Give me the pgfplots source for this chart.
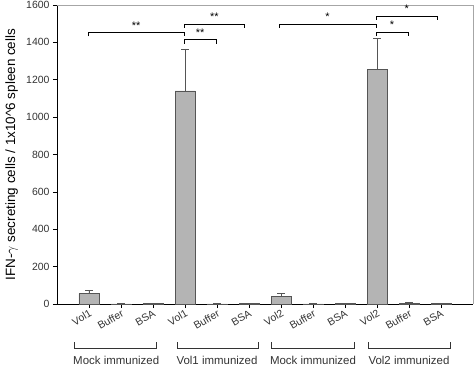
\documentclass[border=0pt]{standalone}
\usepackage{pgfplots}
\pgfplotsset{compat=1.18}
\usepackage{fontspec}
\setmainfont{Liberation Sans}
\definecolor{txt}{HTML}{333333}
\definecolor{barfill}{HTML}{B4B4B4}
\definecolor{baredge}{HTML}{555555}
\begin{document}
\begin{tikzpicture}[x=1bp,y=1bp]
\begin{axis}[
  at={(0,0)}, anchor=south west,
  scale only axis, width=416bp, height=299bp,
  xmin=-1, xmax=12, ymin=0, ymax=1600,
  axis lines*=left,
  axis line style={black, line width=0.6pt},
  tick align=outside, major tick length=4bp,
  tick style={black, line width=0.5pt},
  ytick={0,200,...,1600},
  xtick={0,...,11},
  xticklabels={Vol1,Buffer,BSA,Vol1,Buffer,BSA,Vol2,Buffer,BSA,Vol2,Buffer,BSA},
  xticklabel style={rotate=30, anchor=north east, inner sep=0.8pt, font=\fontsize{10.5}{12}\selectfont, text=txt},
  yticklabel style={font=\fontsize{10.5}{12}\selectfont, text=txt, /pgf/number format/fixed, /pgf/number format/1000 sep={}},
  /pgf/number format/assume math mode=true,
  scaled y ticks=false,
  ylabel={IFN-$\gamma$ secreting cells / 1x10\^{}6 spleen cells},
  ylabel style={font=\fontsize{13.5}{14}\selectfont, text=black},
  ylabel shift=1.5bp,
  clip=false,
]
\draw[gray!70, line width=0.8pt] (rel axis cs:0,1) -- (rel axis cs:1,1) -- (rel axis cs:1,0);
\addplot[ybar, bar width=0.625, fill=barfill, draw=baredge, line width=0.6pt,
  error bars/.cd, y dir=plus, y explicit,
  error bar style={baredge, line width=0.6pt},
  error mark options={rotate=90, mark size=4pt, baredge, line width=0.6pt}]
coordinates {
 (0,55) +- (0,17)
 (1,1) +- (0,1)
 (2,3) +- (0,2)
 (3,1140) +- (0,225)
 (4,1) +- (0,1)
 (5,3) +- (0,2)
 (6,40) +- (0,18)
 (7,1) +- (0,1)
 (8,3) +- (0,2)
 (9,1255) +- (0,165)
 (10,5) +- (0,2)
 (11,3) +- (0,2)
};
% significance brackets
\draw[black, line width=1pt] (axis cs:-0.03,1432) -- (axis cs:-0.03,1452) -- (axis cs:2.97,1452) -- (axis cs:2.97,1432);
\node[font=\fontsize{11}{12}\selectfont, anchor=south] at (axis cs:1.47,1452) {**};
\draw[black, line width=1pt] (axis cs:2.97,1477) -- (axis cs:2.97,1497) -- (axis cs:4.87,1497) -- (axis cs:4.87,1477);
\node[font=\fontsize{11}{12}\selectfont, anchor=south] at (axis cs:3.92,1497) {**};
\draw[black, line width=1pt] (axis cs:2.97,1393) -- (axis cs:2.97,1413) -- (axis cs:3.98,1413) -- (axis cs:3.98,1393);
\node[font=\fontsize{11}{12}\selectfont, anchor=south] at (axis cs:3.47,1413) {**};
\draw[black, line width=1pt] (axis cs:5.94,1477) -- (axis cs:5.94,1497) -- (axis cs:8.97,1497) -- (axis cs:8.97,1477);
\node[font=\fontsize{11}{12}\selectfont, anchor=south] at (axis cs:7.45,1497) {*};
\draw[black, line width=1pt] (axis cs:8.97,1521) -- (axis cs:8.97,1541) -- (axis cs:10.89,1541) -- (axis cs:10.89,1521);
\node[font=\fontsize{11}{12}\selectfont, anchor=south] at (axis cs:9.93,1541) {*};
\draw[black, line width=1pt] (axis cs:8.97,1433) -- (axis cs:8.97,1453) -- (axis cs:9.98,1453) -- (axis cs:9.98,1433);
\node[font=\fontsize{11}{12}\selectfont, anchor=south] at (axis cs:9.47,1453) {*};
% group brackets
\draw[txt, line width=0.5pt] (axis cs:-0.45,-206) -- (axis cs:-0.45,-238) -- (axis cs:2.1,-238) -- (axis cs:2.1,-206);
\node[font=\fontsize{11.5}{12}\selectfont, text=txt] at (axis cs:0.85,-300) {Mock immunized};
\draw[txt, line width=0.5pt] (axis cs:2.75,-206) -- (axis cs:2.75,-238) -- (axis cs:5.3,-238) -- (axis cs:5.3,-206);
\node[font=\fontsize{11.5}{12}\selectfont, text=txt] at (axis cs:4.0,-300) {Vol1 immunized};
\draw[txt, line width=0.5pt] (axis cs:5.7,-206) -- (axis cs:5.7,-238) -- (axis cs:8.3,-238) -- (axis cs:8.3,-206);
\node[font=\fontsize{11.5}{12}\selectfont, text=txt] at (axis cs:7.0,-300) {Mock immunized};
\draw[txt, line width=0.5pt] (axis cs:8.72,-206) -- (axis cs:8.72,-238) -- (axis cs:11.3,-238) -- (axis cs:11.3,-206);
\node[font=\fontsize{11.5}{12}\selectfont, text=txt] at (axis cs:10.0,-300) {Vol2 immunized};
\end{axis}
\pgfresetboundingbox
\path[use as bounding box] (-57bp,-62bp) rectangle (417bp,304bp);
\end{tikzpicture}
\end{document}
